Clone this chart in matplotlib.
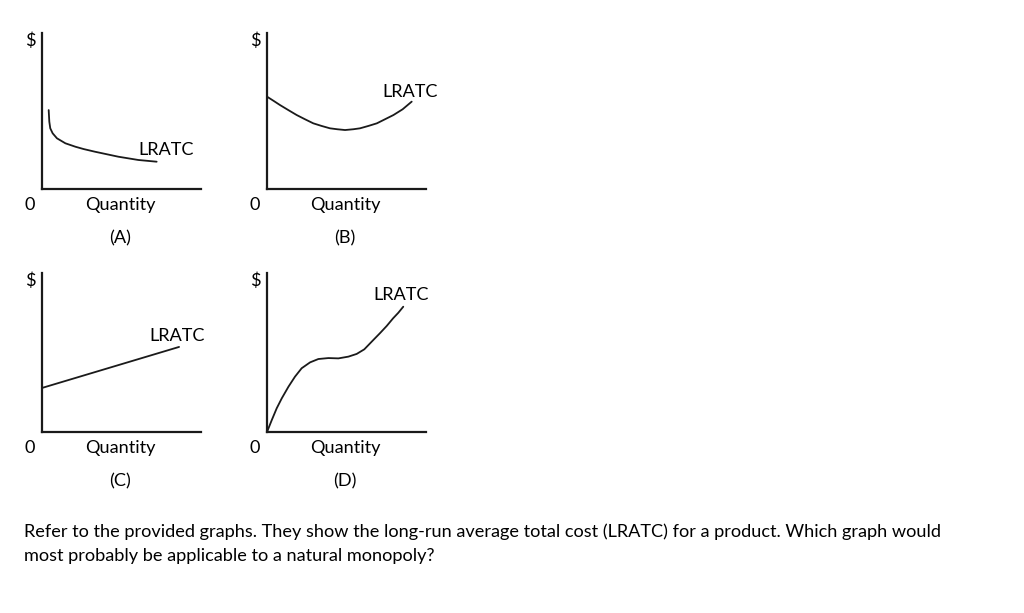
import matplotlib
matplotlib.use("Agg")
import matplotlib.pyplot as plt

W, H = 1024, 613

# curve readings, in axis units (0..10 on both axes)
a_q = [0.42, 0.46, 0.52, 0.67, 0.94, 1.47, 2.10, 2.62, 3.33, 4.80, 6.06, 7.21]
a_c = [5.06, 4.31, 3.89, 3.57, 3.25, 2.93, 2.71, 2.56, 2.39, 2.07, 1.86, 1.75]

b_q = [0.0, 0.40, 0.82, 1.34, 1.87, 2.39, 2.91, 3.44, 3.96, 4.42, 4.91,
       5.43, 5.85, 6.37, 6.91, 7.42, 7.95, 8.53, 9.10]
b_c = [5.92, 5.66, 5.38, 5.06, 4.74, 4.47, 4.21, 4.04, 3.89, 3.83, 3.78,
       3.83, 3.89, 4.04, 4.21, 4.47, 4.74, 5.11, 5.60]

c_q = [0.0, 8.62]
c_c = [2.77, 5.35]

d_q = [0.0, 0.30, 0.61, 0.93, 1.35, 1.76, 2.18, 2.71, 3.23, 3.86, 4.49,
       5.12, 5.64, 6.12, 6.69, 7.10, 7.53, 7.93, 8.26, 8.57]
d_c = [0.0, 0.75, 1.49, 2.12, 2.85, 3.48, 4.01, 4.38, 4.59, 4.65, 4.63,
       4.74, 4.91, 5.20, 5.79, 6.21, 6.67, 7.15, 7.50, 7.88]

panel_names = ["(A)", "(B)", "(C)", "(D)"]
curve_label = "LRATC"
question = ["Refer to the provided graphs. They show the long-run average total cost (LRATC) for a product. Which graph would",
            "most probably be applicable to a natural monopoly?"]

plt.rcParams['font.family'] = ['Lato', 'DejaVu Sans']
FS = 13.1

fig = plt.figure(figsize=(W / 100, H / 100), dpi=100)
fig.patch.set_facecolor("white")


def px(x, y):
    return x / W, 1 - y / H


def panel(left, top, right, bottom, q, c, name, lab_xy):
    x0, y0 = px(left, bottom)
    x1, y1 = px(right, top)
    ax = fig.add_axes([x0, y0, x1 - x0, y1 - y0])
    ax.plot(q, c, color="#1a1a1a", lw=1.3, solid_joinstyle="round", solid_capstyle="round")
    ax.set_xlim(0, 10)
    ax.set_ylim(0, 10)
    for s in ["top", "right"]:
        ax.spines[s].set_visible(False)
    for s in ["left", "bottom"]:
        ax.spines[s].set_linewidth(1.6)
        ax.spines[s].set_color("#1a1a1a")
    ax.set_xticks([])
    ax.set_yticks([])
    ax.patch.set_alpha(0)

    fig.text(*px(left - 12, top + 8), "$", ha="center", va="center", fontsize=FS)
    fig.text(*px(left - 12, bottom + 16), "0", ha="center", va="center", fontsize=FS)
    mid = left + 78
    fig.text(*px(mid, bottom + 16), "Quantity", ha="center", va="center", fontsize=FS)
    fig.text(*px(mid, bottom + 49), name, ha="center", va="center", fontsize=FS)
    fig.text(*px(*lab_xy), curve_label, ha="center", va="center", fontsize=FS)


panel(42, 33, 201, 189, a_q, a_c, panel_names[0], (166, 150))
panel(267, 33, 426, 189, b_q, b_c, panel_names[1], (410, 92))
panel(42, 273, 201, 432, c_q, c_c, panel_names[2], (177, 336))
panel(267, 273, 426, 432, d_q, d_c, panel_names[3], (401, 295))

fig.text(*px(24, 532), question[0], ha="left", va="center", fontsize=FS)
fig.text(*px(24, 556), question[1], ha="left", va="center", fontsize=FS)

fig.savefig("out.png", dpi=100, facecolor="white")
